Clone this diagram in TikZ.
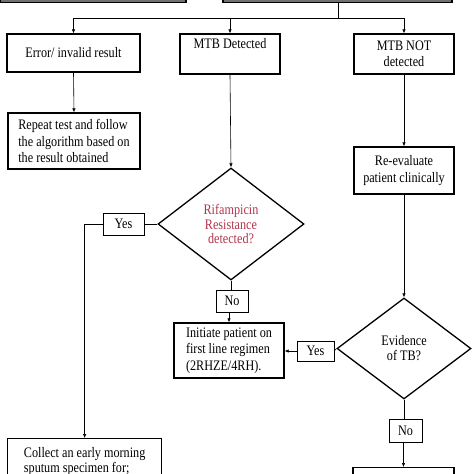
\documentclass[tikz,border=0pt]{standalone}
\usepackage{fontspec}
\setmainfont{Liberation Serif}[FakeStretch=0.84]
\usepackage{xcolor}
\usepackage{tikz}
\usetikzlibrary{positioning}
\usetikzlibrary{arrows.meta}
\usetikzlibrary{shapes.geometric}

\definecolor{rifred}{RGB}{178,52,74}
\definecolor{headgray}{RGB}{112,112,112}

\tikzset{
    box/.style={draw, line width=1.3pt, align=center, inner sep=2pt,
        font=\fontsize{14.5}{16.5}\selectfont},
    tag/.style={draw, line width=0.6pt, inner sep=0pt,
        font=\fontsize{14.5}{15}\selectfont},
    decision/.style={diamond, draw, line width=1.3pt, align=center, aspect=1.3,
        inner sep=0pt, font=\fontsize{14.5}{14.5}\selectfont},
    link/.style={line width=0.6pt},
    arrow/.style={line width=0.6pt, -{Latex[length=4pt, width=3.5pt]}}
}

\begin{document}
\begin{tikzpicture}[x=1pt, y=-1pt]
    \useasboundingbox (0,0) rectangle (474,474);
    \clip (0,0) rectangle (474,474);

    % cut-off boxes at the top
    \node[box, fill=headgray, minimum width=186pt, minimum height=20pt]
        (topleft) at (93,-7.5) {};
    \node[box, fill=headgray, minimum width=229pt, minimum height=20pt]
        (topright) at (337.5,-7.5) {};
    \coordinate (bus) at (338,18);

    % first results
    \node[box, minimum width=133pt, minimum height=38pt] (err) at (73.5,53)
        {Error/ invalid result};
    \node[box, minimum width=100pt, minimum height=40pt] (det) at (230,54)
        {MTB Detected\\ \strut};
    \node[box, minimum width=100pt, minimum height=40pt] (notdet) at (404,54)
        {MTB NOT\\detected};

    \node[box, align=left, minimum width=132pt, minimum height=56pt]
        (repeat) at (74,141)
        {Repeat test and follow\\the algorithm based on\\the result obtained};
    \node[box, minimum width=100pt, minimum height=47pt] (reeval) at (404,170.5)
        {Re-evaluate\\patient clinically};

    % decisions
    \node[decision, minimum width=146pt, minimum height=112pt, text=rifred]
        (rif) at (231,224) {Rifampicin\\Resistance\\detected?};
    \node[decision, minimum width=134pt, minimum height=101pt,
        font=\fontsize{14.5}{15}\selectfont]
        (evid) at (404,348.5) {Evidence\\of TB?};

    \node[tag, minimum width=41pt, minimum height=22pt] (yesrif) at (123.5,224) {Yes};
    \node[tag, minimum width=32pt, minimum height=22pt] (norif) at (232,301) {No};
    \node[tag, minimum width=37pt, minimum height=20pt] (yesevid) at (315.5,351) {Yes};
    \node[tag, minimum width=33pt, minimum height=23pt] (noevid) at (405.5,430.5) {No};

    \node[box, align=left, minimum width=110pt, minimum height=55pt]
        (init) at (229,350.5)
        {Initiate patient on\\first line regimen\\(2RHZE/4RH).};
    \node[box, align=left, anchor=north west, minimum width=154pt,
        inner xsep=7pt, inner ysep=9pt, text depth=30pt,
        font=\fontsize{14.5}{13}\selectfont]
        (collect) at (7,438)
        {Collect an early morning\\sputum specimen for;};
    \node[box, anchor=north, minimum width=101pt, minimum height=40pt]
        (last) at (403.5,467) {};

    % connectors
    \draw[link] (topright.south -| bus) -- (bus);
    \draw[arrow] (bus) -| (err.north);
    \draw[arrow] (bus) -| (det.north);
    \draw[arrow] (bus) -| (notdet.north);
    \draw[arrow] (err.south) -- (repeat.north);
    \draw[arrow] (det.south) -- (rif.north);
    \draw[arrow] (notdet.south) -- (reeval.north);
    \draw[arrow] (reeval.south) -- (evid.north);

    \draw[link] (rif.west) -- (yesrif.east);
    \draw[arrow] (yesrif.west) -| (collect.north);
    \draw[link] (rif.south) -- (norif.north -| rif.south);
    \draw[arrow] (norif.south -| init.north) -- (init.north);

    \draw[link] (evid.west) -- (yesevid.east);
    \draw[arrow] (yesevid.west) -- (yesevid.west -| init.east);
    \draw[link] (evid.south) -- (noevid.north -| evid.south);
    \draw[arrow] (noevid.south -| last.north) -- (last.north);
\end{tikzpicture}
\end{document}
